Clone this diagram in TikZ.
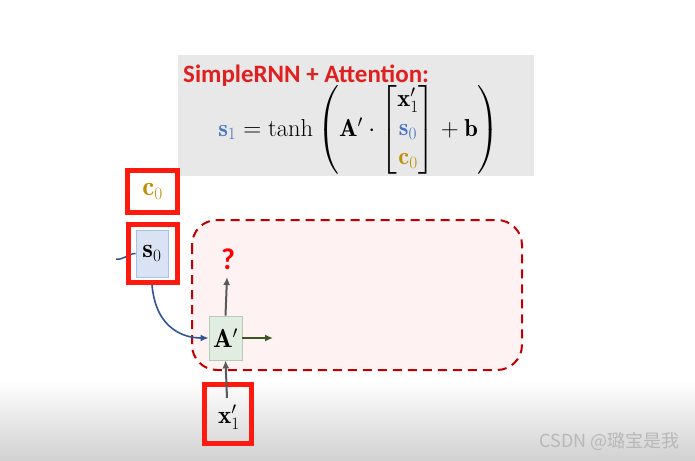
\documentclass[tikz,border=0pt]{standalone}
\usepackage{amsmath}
\usepackage{fontspec}
\setsansfont{Carlito}
\newfontfamily\cjk{Noto Sans CJK SC}
\usetikzlibrary{arrows.meta}

\definecolor{framered}{HTML}{FF1A10}
\definecolor{titlered}{HTML}{E02020}
\definecolor{sblue}{HTML}{4472C4}
\definecolor{cgold}{HTML}{BF9000}
\definecolor{darkred}{HTML}{C00000}
\definecolor{curveblue}{HTML}{2F5597}
\definecolor{arrowgray}{HTML}{595959}
\definecolor{arrowgreen}{HTML}{385723}

\begin{document}
\begin{tikzpicture}[x=1pt, y=-1pt,
  frame/.style={draw=framered, line width=5pt, rectangle, inner sep=0pt},
  cell/.style={rectangle, inner sep=0pt, line width=0.8pt},
  flow/.style={-{Latex[length=8pt, width=7pt]}, line width=2pt}]
\useasboundingbox (0,0) rectangle (695,460);
\shade[top color=white, bottom color=black!18] (0,380) rectangle (695,460);

% formula panel
\fill[black!9] (178,55) rectangle (534,176);
\node[anchor=base west, inner sep=0pt, text=titlered] (title) at (183,82)
  {\fontsize{25}{30}\selectfont\sffamily\bfseries SimpleRNN + Attention:};
\node[inner sep=0pt] (formula) at (359,130)
  {\fontsize{24.5}{29}\selectfont
   $\color{sblue}\mathbf{s}_1 \color{black} = \tanh\left(\mathbf{A}'\cdot
   \begin{bmatrix}\mathbf{x}'_1\\ \color{sblue}\mathbf{s}_0\\ \color{cgold}\mathbf{c}_0\end{bmatrix}
   + \mathbf{b}\right)$};

% attention region
\draw[darkred, fill=red!5, line width=2pt, dash pattern=on 9pt off 6pt, rounded corners=25pt]
  (192,220) rectangle (522,370);

% inputs
\coordinate (s0in) at (116,259);
\node[cell, draw=sblue!45, fill=sblue!20, minimum width=32, minimum height=47] (s0) at (152,253.5)
  {\fontsize{27}{30}\selectfont$\mathbf{s}_0$};
\draw[curveblue, line width=1.5pt] (s0in) to[out=-10, in=180] (s0.west);
\node[frame, minimum width=50, minimum height=42] (c0) at (152.5,191.5)
  {\fontsize{27}{30}\selectfont$\color{cgold}\mathbf{c}_0$};
\node[frame, minimum width=49, minimum height=58] (s0frame) at (153,253.5) {};
\node[frame, minimum width=47, minimum height=59] (x1frame) at (228,414) {};
\node[inner sep=0pt] (x1) at (229,417)
  {\fontsize{25}{28}\selectfont$\mathbf{x}'_1$};

% cell A'
\node[cell, draw=green!35!black!30, fill=green!40!black!12, minimum width=33, minimum height=44] (A) at (225.5,338)
  {\fontsize{26}{30}\selectfont$\mathbf{A}'$};
\node[inner sep=0pt, text=red] (q) at (228,259)
  {\fontsize{30}{34}\selectfont\sffamily\bfseries ?};
\coordinate (out) at (273,338);

\draw[flow, arrowgray] (A.north) -- (227,277);
\draw[flow, arrowgray] (227,398) -- (A.south);
\draw[flow, arrowgreen] (A.east) -- (out);
\draw[-{Latex[length=8pt, width=7pt]}, curveblue, line width=1.6pt]
  (152,285) .. controls (156,330) and (185,338) .. (A.west);

% watermark
\node[anchor=base east, inner sep=0pt, text=black!28] (mark) at (680,447)
  {\fontsize{18}{20}\selectfont\cjk CSDN @璐宝是我};
\end{tikzpicture}
\end{document}
